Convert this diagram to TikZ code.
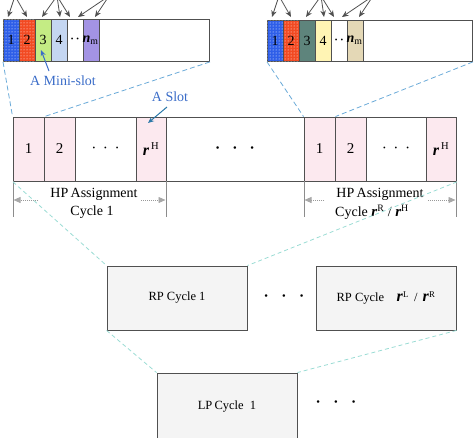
\documentclass[tikz,border=0pt]{standalone}
\usepackage{fontspec}
\setmainfont{Liberation Serif}
\usetikzlibrary{patterns,arrows.meta}
\definecolor{bordc}{HTML}{505050}
\definecolor{pinkc}{HTML}{FCE9EF}
\definecolor{boxc}{HTML}{F4F4F4}
\definecolor{bluedash}{HTML}{6AAAD8}
\definecolor{cyandash}{HTML}{9ADCD4}
\definecolor{labblue}{HTML}{3A6CC8}
\definecolor{slotarr}{HTML}{2A78A8}
\definecolor{cblue}{HTML}{2E5EE8}
\definecolor{cred}{HTML}{F24A22}
\definecolor{cgreen}{HTML}{C4EC84}
\definecolor{clblue}{HTML}{C4D6F2}
\definecolor{cpurple}{HTML}{A393E4}
\definecolor{cteal}{HTML}{5E847C}
\definecolor{cyellow}{HTML}{FFF4B4}
\definecolor{cbeige}{HTML}{E4D8B6}
\definecolor{gtip}{HTML}{A8A8A8}
\tikzset{
  cellbox/.style={draw=bordc, line width=0.9pt, inner sep=0pt, minimum height=42pt, minimum width=16pt, font=\fontsize{14}{14}\selectfont},
  dotcell/.style={cellbox, fill=#1, postaction={pattern=dots, pattern color=white}},
  slotbox/.style={draw=bordc, line width=0.9pt, inner sep=0pt, minimum height=64pt, font=\fontsize{15}{15}\selectfont},
  cycbox/.style={draw=bordc, line width=0.9pt, fill=boxc, inner sep=0pt, minimum width=140pt, minimum height=64pt, font=\fontsize{12.5}{12.5}\selectfont},
  toparr/.style={draw=bordc, line width=0.8pt, -{Stealth[length=6.5pt,width=5.5pt]}},
  bdash/.style={draw=bluedash, line width=0.8pt, dash pattern=on 5pt off 3pt},
  cdash/.style={draw=cyandash, line width=0.8pt, dash pattern=on 4pt off 3pt},
  span/.style={draw=gray!80, line width=0.6pt, dash pattern=on 1pt off 1pt, -{Triangle[length=7pt,width=6pt,color=gtip,fill=gtip]}},
  vline/.style={draw=gray!90, line width=0.7pt},
  hplab/.style={inner sep=0pt, align=center, font=\fontsize{14}{17}\selectfont},
}
\newcommand{\rr}{\textbf{\textit{r}}}
\newcommand{\nn}{\textbf{\textit{n}}}
\newcommand{\sdot}{{\fontsize{7.5}{7.5}\selectfont\textbullet}}
\newcommand{\bdot}{{\fontsize{10.5}{10.5}\selectfont\textbullet}}
\begin{document}
\begin{tikzpicture}[x=1pt,y=-1pt]
\useasboundingbox (0,0) rectangle (474,437);
\clip (0,0) rectangle (474,437);

% ---------- top left mini-slot bar ----------
\node[cellbox, minimum width=206pt, anchor=north west] (tl) at (3,19) {};
\node[dotcell=cblue] (l1) at (11,40) {1};
\node[dotcell=cred] (l2) at (27,40) {2};
\node[cellbox, fill=cgreen] (l3) at (43,40) {3};
\node[cellbox, fill=clblue] (l4) at (59,40) {4};
\node[cellbox, fill=white] (l5) at (75,40) {\sdot\hspace{3pt}\sdot};
\node[cellbox, fill=cpurple] (l6) at (91,40) {\kern-1pt\nn$_{\mathrm{m}}$};

% ---------- top right mini-slot bar ----------
\node[cellbox, minimum width=205pt, minimum height=41pt, anchor=north west] (tr) at (267,20) {};
\node[dotcell=cblue, minimum height=41pt] (r1) at (275,40.5) {1};
\node[dotcell=cred, minimum height=41pt] (r2) at (291,40.5) {2};
\node[cellbox, fill=cteal, minimum height=41pt] (r3) at (307,40.5) {3};
\node[cellbox, fill=cyellow, minimum height=41pt] (r4) at (323,40.5) {4};
\node[cellbox, fill=white, minimum height=41pt] (r5) at (339,40.5) {\sdot\hspace{3pt}\sdot};
\node[cellbox, fill=cbeige, minimum height=41pt] (r6) at (355,40.5) {\kern-1pt\nn$_{\mathrm{m}}$};

% ---------- top arrows ----------
\coordinate (al1) at (15,-4);
\coordinate (al2) at (57,-4);
\coordinate (al3) at (109,-4);
\coordinate (ar1) at (279,-4);
\coordinate (ar2) at (321,-4);
\coordinate (ar3) at (373,-4);
\coordinate (hl1) at (8,17);  \coordinate (hl2) at (27,17);
\coordinate (hl3) at (42,17); \coordinate (hl4) at (60,17); \coordinate (hl5) at (70,17);
\coordinate (hl6) at (78,17); \coordinate (hl7) at (95,17);
\coordinate (hr1) at (272,17); \coordinate (hr2) at (291,17);
\coordinate (hr3) at (306,17); \coordinate (hr4) at (324,17); \coordinate (hr5) at (334,17);
\coordinate (hr6) at (342,17); \coordinate (hr7) at (359,17);
\foreach \a/\h in {al1/hl1,al1/hl2,al2/hl3,al2/hl4,al2/hl5,al3/hl6,al3/hl7,
                   ar1/hr1,ar1/hr2,ar2/hr3,ar2/hr4,ar2/hr5,ar3/hr6,ar3/hr7}
  \draw[toparr] (\a) -- (\h);

% ---------- middle slot bar ----------
\node[slotbox, minimum width=443pt, anchor=north west] (mb) at (13,117) {};
\node[slotbox, fill=pinkc, minimum width=31pt] (m1) at (28.5,149) {1};
\node[slotbox, fill=pinkc, minimum width=31pt] (m2) at (59.5,149) {2};
\node[slotbox, fill=white, minimum width=61pt] (m3) at (105.5,149) {\sdot\hspace{9pt}\sdot\hspace{9pt}\sdot};
\node[slotbox, fill=pinkc, minimum width=30pt] (m4) at (151,149) {{\fontsize{16}{16}\selectfont\rr}$^{\,\mathrm{H}}$};
\node[slotbox, fill=white, minimum width=138pt] (mg) at (235,149) {\bdot\hspace{13.5pt}\bdot\hspace{13.5pt}\bdot};
\node[slotbox, fill=pinkc, minimum width=31pt] (n1) at (319.5,149) {1};
\node[slotbox, fill=pinkc, minimum width=31pt] (n2) at (350.5,149) {2};
\node[slotbox, fill=white, minimum width=60pt] (n3) at (396,149) {\sdot\hspace{9pt}\sdot\hspace{9pt}\sdot};
\node[slotbox, fill=pinkc, minimum width=30pt] (n4) at (441,149) {{\fontsize{16}{16}\selectfont\rr}$^{\,\mathrm{H}}$};

% ---------- labels ----------
\node[inner sep=0pt, text=labblue, font=\fontsize{14}{14}\selectfont] (mini) at (63,81) {A Mini-slot};
\coordinate (miniT) at (49,71);
\coordinate (miniH) at (41,50);
\draw[labblue, line width=1pt, -{Stealth[length=6pt,width=5pt]}] (miniT) -- (miniH);
\node[inner sep=0pt, text=labblue, font=\fontsize{14}{14}\selectfont] (slot) at (170,97) {A Slot};
\coordinate (slotT) at (167,107);
\coordinate (slotH) at (148,123);
\draw[slotarr, line width=1pt, -{Stealth[length=6pt,width=5pt]}] (slotT) -- (slotH);

% ---------- zoom lines (blue) ----------
\draw[bdash] (tl.south west) -- (m1.north west);
\draw[bdash] (tl.south east) -- (m1.north east);
\draw[bdash] (tr.south west) -- (n1.north west);
\draw[bdash] (tr.south east) -- (n1.north east);

% ---------- HP assignment spans ----------
\coordinate (v1a) at (13,181); \coordinate (v1b) at (13,217);
\coordinate (v2a) at (166,181); \coordinate (v2b) at (166,217);
\coordinate (v3a) at (304,181); \coordinate (v3b) at (304,217);
\coordinate (v4a) at (456,181); \coordinate (v4b) at (456,217);
\foreach \a/\b in {v1a/v1b,v2a/v2b,v3a/v3b,v4a/v4b} \draw[vline] (\a) -- (\b);
\node[hplab] (hp1) at (94,194) {HP\,Assignment};
\node[hplab] (hc1) at (92,212) {Cycle 1};
\node[hplab] (hp2) at (380,194) {HP\,Assignment};
\node[hplab] (hc2) at (372,212) {Cycle {\fontsize{15}{15}\selectfont\rr}$^{\mathrm{R}}$ / {\fontsize{15}{15}\selectfont\rr}$^{\mathrm{H}}$};
\coordinate (s1l) at (13.5,200); \coordinate (s1ls) at (38,200);
\coordinate (s1r) at (165.5,200); \coordinate (s1rs) at (141,200);
\coordinate (s2l) at (304.5,200); \coordinate (s2ls) at (324,200);
\coordinate (s2r) at (455.5,200); \coordinate (s2rs) at (428,200);
\draw[span] (s1ls) -- (s1l);
\draw[span] (s1rs) -- (s1r);
\draw[span] (s2ls) -- (s2l);
\draw[span] (s2rs) -- (s2r);

% ---------- RP / LP cycles ----------
\node[cycbox] (rp1) at (177,298) {RP Cycle 1};
\node[cycbox] (rp2) at (386,298) {RP Cycle\quad{\fontsize{16}{16}\selectfont\rr}$^{\mathrm{L}}$\, /\, {\fontsize{16}{16}\selectfont\rr}$^{\mathrm{R}}$};
\node[inner sep=0pt] (rpd) at (284,297) {\bdot\hspace{14pt}\bdot\hspace{14pt}\bdot};
\node[cycbox, minimum height=68pt] (lp1) at (227,407) {LP\,Cycle\ \ 1};
\node[inner sep=0pt] (lpd) at (336,403) {\bdot\hspace{14pt}\bdot\hspace{14pt}\bdot};

% ---------- zoom lines (cyan) ----------
\draw[cdash] (mb.south west) -- (rp1.north west);
\draw[cdash] (mb.south east) -- (rp1.north east);
\draw[cdash] (rp1.south west) -- (lp1.north west);
\draw[cdash] (rp2.south east) -- (lp1.north east);
\end{tikzpicture}
\end{document}
